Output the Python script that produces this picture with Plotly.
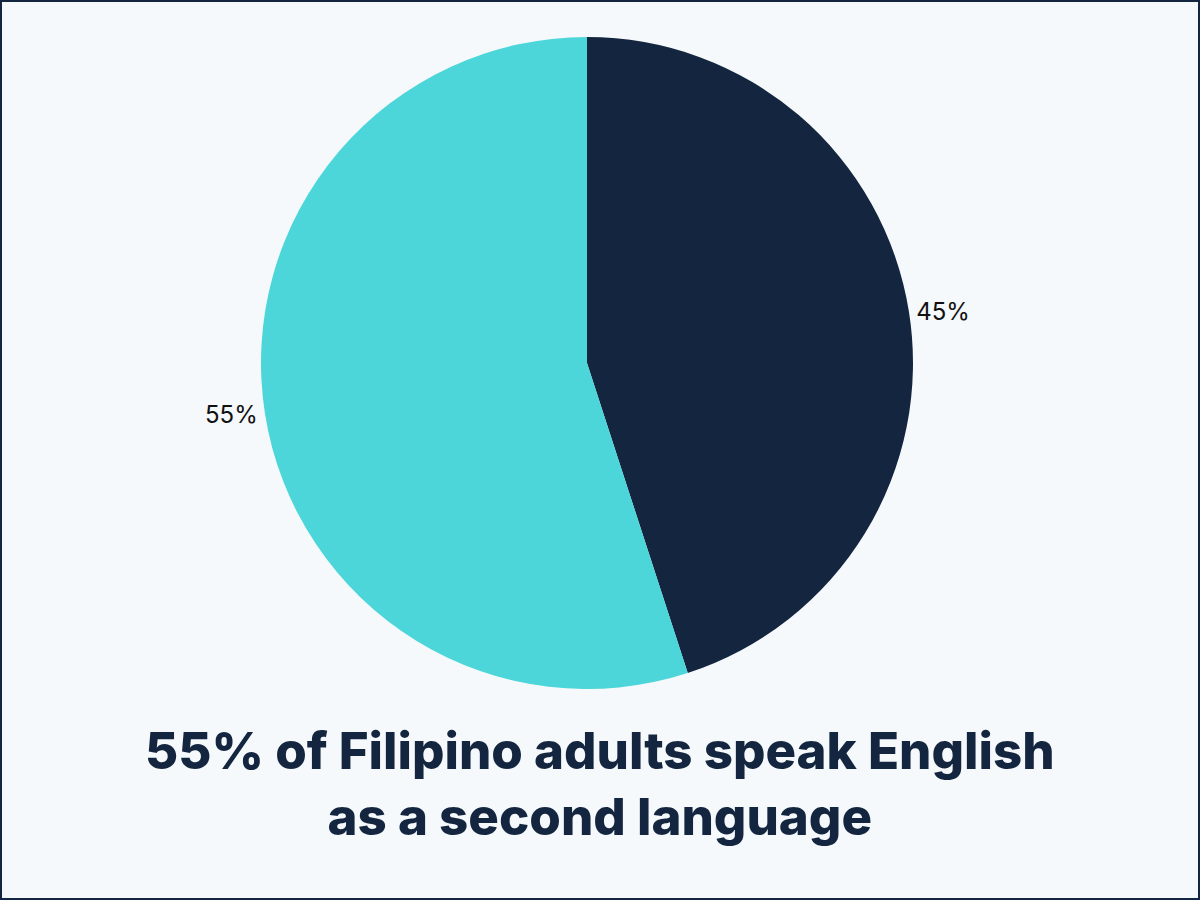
import plotly.graph_objects as go

# Share of Filipino adults by English as a second language
categories = ["Do not speak English as a second language", "Speak English as a second language"]
shares = [45, 55]
slice_colors = ["#14263F", "#4CD6D9"]
title_text = "55% of Filipino adults speak English<br>as a second language"

fig = go.Figure()

fig.add_trace(go.Pie(
    labels=categories,
    values=shares,
    sort=False,
    direction="clockwise",
    rotation=0,
    textinfo="percent",
    textposition="outside",
    textfont=dict(family="Inter", size=24, color="#111111"),
    marker=dict(colors=slice_colors, line=dict(width=0)),
    domain=dict(x=[261 / 1200, 913 / 1200], y=[1 - 689 / 900, 1 - 37 / 900]),
    showlegend=False,
    hoverinfo="label+percent",
))

fig.add_annotation(
    text=title_text,
    x=0.5, y=1 - 783 / 900,
    xref="paper", yref="paper",
    xanchor="center", yanchor="middle",
    showarrow=False,
    font=dict(family="Inter", size=51, color="#14263F", weight=800),
    align="center",
)

# frame around the whole picture
fig.add_shape(
    type="rect", xref="paper", yref="paper",
    x0=0, y0=0, x1=1, y1=1,
    line=dict(color="#14263F", width=4),
)

fig.update_layout(
    width=1200,
    height=900,
    margin=dict(l=0, r=0, t=0, b=0),
    paper_bgcolor="#F5F9FC",
    plot_bgcolor="#F5F9FC",
)

fig.write_html(
    "out.html",
    config={"displayModeBar": False},
    post_script="document.body.style.margin = '0';",
)
